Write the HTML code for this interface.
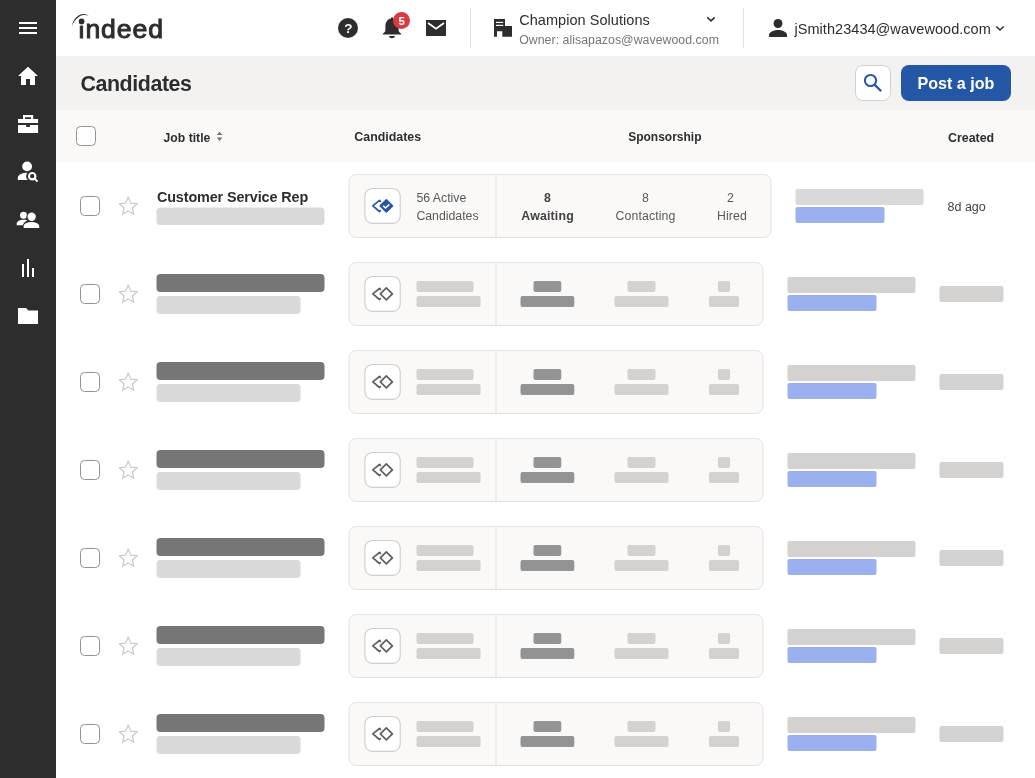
<!DOCTYPE html>
<html lang="en"><head><meta charset="utf-8"><title>Candidates</title>
<style>
*{box-sizing:border-box;margin:0;padding:0}
html,body{width:1035px;height:778px;overflow:hidden;background:#fff}
body{position:relative;font-family:"Liberation Sans",Arial,sans-serif;color:#2d2d2d}
.abs,.t{position:absolute}
.t{white-space:nowrap}
.side{position:absolute;left:0;top:0;width:56px;height:778px;background:#2d2d2d}
.titlebar{position:absolute;left:56px;top:56px;width:979px;height:54px;background:#f3f2f1}
.thead{position:absolute;left:56px;top:110px;width:979px;height:52px;background:#faf9f8}
.cb{position:absolute;width:20px;height:20px;border:1px solid #949494;border-radius:4.5px;background:#fff}
svg{position:absolute;overflow:visible}
</style></head><body>

<div class="side">
<svg style="left:0;top:0" width="56" height="340" viewBox="0 0 56 340" fill="#fff">
<rect x="19" y="22" width="18" height="2"/><rect x="19" y="27" width="18" height="2"/><rect x="19" y="32" width="18" height="2"/>
<path d="M28 66.800l10 9.200h-3v9h-5v-6h-4v6h-5v-9h-3z"/>
<path fill-rule="evenodd" d="M23 115h10.200v4h4.900v4h-20.100v-4h5zM25.100 117.300v1.700h5.900v-1.700z"/><path d="M18 124.900h8.200v2h3.700v-2h8.200v8.100h-20.100z"/>
<circle cx="27.100" cy="166.400" r="4.900"/>
<path d="M17.800 180.100v-2.200c0-3.300 4.700-5.100 9.500-5.100a6 6 0 0 0 .4 7.300z"/>
<circle cx="32.200" cy="176.200" r="3.200" fill="none" stroke="#fff" stroke-width="2.150"/>
<path d="M34.400 178.400l3.200 3.200" stroke="#fff" stroke-width="2" fill="none"/>
<circle cx="23.500" cy="215.300" r="3.500"/>
<path d="M16.700 225.200v-1.600c0-2.500 3.900-3.800 6.600-3.800c1.200 0 2.800.15 4.100.5c-2.300 1.100-3.700 2.600-3.900 4.900z"/>
<circle cx="31.650" cy="216.750" r="5.200" fill="#2d2d2d"/>
<path d="M23.700 228.050v-2.200c0-2.700 4.900-3.950 7.750-3.950s7.750 1.250 7.750 3.950v2.200z" stroke="#2d2d2d" stroke-width="2"/>
<path d="M23.700 228.050v-2.200c0-2.700 4.900-3.950 7.750-3.950s7.750 1.250 7.750 3.950v2.200z"/>
<circle cx="31.650" cy="216.750" r="4.150"/>
<rect x="22" y="264" width="2" height="13"/><rect x="27" y="259" width="2" height="18"/><rect x="32" y="268" width="2" height="9"/>
<path d="M18 308h8l2.500 2.500h9.500v13.500h-20z"/>
</svg></div>
<div class="t" id="logo" style="left:78.600px;top:11.600px;font-size:26.600px;line-height:34px;font-weight:400;letter-spacing:0.900px;color:#2d2d2d;-webkit-text-stroke:1px #2d2d2d">indeed</div>
<svg style="left:0;top:0" width="1" height="1"><rect x="78" y="16" width="7.500" height="9.600" fill="#fff"/><path d="M72 25.900c1.300-6.400 5.600-11.700 11.600-11.900c2 0 3.800.700 5.200 2.100c-1.500-.900-3.200-1.300-5-1.100c-5.200.500-9.200 5.100-11.800 10.900z" fill="#2d2d2d"/><circle cx="81.600" cy="21.400" r="2.850" fill="#2d2d2d"/></svg>
<div class="abs" style="left:338px;top:18px;width:20px;height:20px;border-radius:50%;background:#2d2d2d"></div>
<div class="t" style="left:248.3px;width:200px;text-align:center;top:21px;font-size:13.5px;line-height:15px;font-weight:700;color:#fff;">?</div>
<svg style="left:380px;top:16px" width="24" height="24" viewBox="380 16 24 24" fill="#2d2d2d"><path d="M382.900 34.600v-1.100c1.600-.700 2.500-1.700 2.500-3.400v-4c0-4.200 2.400-7 5.600-7.600v-.2a1 1 0 0 1 2 0v.2c3.200.6 5.600 3.400 5.600 7.600v4c0 1.700.9 2.700 2.500 3.400v1.100z"/><path d="M389.100 36.100h5.800a2.900 2.100 0 0 1-5.800 0z"/></svg>
<div class="abs" style="left:393px;top:12px;width:17px;height:17px;border-radius:50%;background:#d93a43"></div>
<div class="t" style="left:301.7px;width:200px;text-align:center;top:15px;font-size:11.5px;line-height:12px;font-weight:700;color:#fff;">5</div>
<svg style="left:426px;top:20px" width="20" height="16" viewBox="0 0 20 16"><rect width="20" height="16" fill="#2d2d2d"/><path d="M2 3l8 5.700l8-5.700" fill="none" stroke="#fff" stroke-width="1.800"/></svg>
<div class="abs" style="left:470px;top:8px;width:1px;height:40px;background:#e4e2e0"></div>
<svg style="left:494px;top:19px" width="18" height="18" viewBox="0 0 18 18"><path d="M0 0h11v7h7v10.700h-9.700v-5.400h-5.300v5.400h-3z" fill="#2d2d2d"/><rect x="2" y="2.850" width="7.200" height="1.150" fill="#fff"/><rect x="2" y="5.800" width="7.200" height="1.200" fill="#fff"/></svg>
<div class="t" style="left:519.2px;top:12px;font-size:14.5px;line-height:16px;letter-spacing:0.05px;">Champion Solutions</div>
<div class="t" style="left:519.2px;top:33px;font-size:12.3px;line-height:14px;color:#767676;letter-spacing:0.045px;">Owner: alisapazos@wavewood.com</div>
<svg style="left:704px;top:13px" width="14" height="12" viewBox="704 13 14 12"><path d="M707.300 17.400l3.700 3.500l3.700-3.500" fill="none" stroke="#2d2d2d" stroke-width="1.500"/></svg>
<div class="abs" style="left:743px;top:8px;width:1px;height:40px;background:#e4e2e0"></div>
<svg style="left:768px;top:18px" width="20" height="20" viewBox="0 0 20 20" fill="#2d2d2d"><circle cx="10" cy="5.500" r="4.450"/><path d="M1.100 18.900v-2.200c0-3.200 5.500-4.800 8.950-4.800s8.950 1.600 8.950 4.800v2.200z"/></svg>
<div class="t" style="left:794.5px;top:21px;font-size:14.5px;line-height:16px;letter-spacing:0.045px;">jSmith23434@wavewood.com</div>
<svg style="left:994px;top:22px" width="14" height="12" viewBox="994 22 14 12"><path d="M996.300 26.500l3.700 3.500l3.700-3.500" fill="none" stroke="#2d2d2d" stroke-width="1.500"/></svg>
<div class="titlebar"></div>
<div class="t" style="left:80.4px;top:72px;font-size:21.4px;line-height:24px;font-weight:700;letter-spacing:-0.41px;">Candidates</div>
<div class="abs" style="left:855px;top:65px;width:36px;height:36px;border:1px solid #d4d2d0;border-radius:8px;background:#fff"></div>
<svg style="left:855px;top:65px" width="36" height="36" viewBox="855 65 36 36"><circle cx="870.500" cy="80.500" r="5.600" fill="none" stroke="#2557a7" stroke-width="2"/><path d="M874.600 84.600l6.600 6.600" stroke="#2557a7" stroke-width="2.200" fill="none"/></svg>
<div class="abs" style="left:901px;top:65px;width:110px;height:36px;border-radius:8px;background:#2557a7"></div>
<div class="t" style="left:917.5px;top:74px;font-size:16.1px;line-height:18px;font-weight:700;color:#fff;">Post a job</div>
<div class="thead"></div>
<div class="cb" style="left:76px;top:126px"></div>
<div class="t" style="left:163.6px;top:131px;font-size:12.2px;line-height:14px;font-weight:700;">Job title</div>
<svg style="left:215px;top:130px" width="10" height="12" viewBox="215 130 10 12" fill="#767676"><path d="M219.600 131.700l2.900 3.300h-5.800z"/><path d="M219.600 140.900l2.900-3.300h-5.800z"/></svg>
<div class="t" style="left:354.3px;top:130px;font-size:12.4px;line-height:14px;font-weight:700;">Candidates</div>
<div class="t" style="left:628.2px;top:130px;font-size:12px;line-height:14px;font-weight:700;">Sponsorship</div>
<div class="t" style="left:948px;top:131px;font-size:12.4px;line-height:14px;font-weight:700;">Created</div>
<div class="cb" style="left:80px;top:196px"></div>
<div class="cb" style="left:80px;top:284px"></div>
<div class="cb" style="left:80px;top:372px"></div>
<div class="cb" style="left:80px;top:460px"></div>
<div class="cb" style="left:80px;top:548px"></div>
<div class="cb" style="left:80px;top:636px"></div>
<div class="cb" style="left:80px;top:724px"></div>
<svg style="left:0;top:0" width="1035" height="778" viewBox="0 0 1035 778">
<polygon points="128.20,197.10 130.76,203.08 137.24,203.66 132.34,207.94 133.78,214.29 128.20,210.95 122.62,214.29 124.06,207.94 119.16,203.66 125.64,203.08" fill="none" stroke="#cdcbc9" stroke-width="1.300" stroke-linejoin="round"/>
<rect x="349" y="174.5" width="422" height="63" rx="7.500" fill="#faf9f8" stroke="#e4e2e0"/>
<rect x="495.500" y="175" width="1" height="62" fill="#e4e2e0"/>
<g transform="translate(364,188)"><rect x=".9" y=".5" width="35.300" height="34.900" rx="7.500" fill="#fff" stroke="#d0cecc" stroke-width="1.150"/><path d="M16.400 13.300l-.9-.9l-6.650 5.550l6.650 5.550l.9-.9" fill="none" stroke="#2557a7" stroke-width="1.700" stroke-linejoin="round" stroke-linecap="round"/><path d="M22.350 11.850l6.050 6.050l-6.050 6.050l-6.050-6.050z" fill="#2557a7" stroke="#2557a7" stroke-width="1.700" stroke-linejoin="round"/><path d="M19.200 17.800l2.250 2.200l3.950-3.650" fill="none" stroke="#fff" stroke-width="1.600"/></g>
<rect x="156.5" y="207.4" width="168" height="17.7" rx="4" fill="#d9d9d9"/>
<rect x="795.5" y="189" width="128" height="16" rx="2" fill="#d9d9d9"/>
<rect x="795.5" y="207" width="89" height="16" rx="2" fill="#9bb0ee"/>
<polygon points="128.20,285.10 130.76,291.08 137.24,291.66 132.34,295.94 133.78,302.29 128.20,298.95 122.62,302.29 124.06,295.94 119.16,291.66 125.64,291.08" fill="none" stroke="#cdcbc9" stroke-width="1.300" stroke-linejoin="round"/>
<rect x="349" y="262.5" width="414" height="63" rx="7.500" fill="#faf9f8" stroke="#e4e2e0"/>
<rect x="495.500" y="263" width="1" height="62" fill="#e4e2e0"/>
<g transform="translate(364,276)"><rect x=".9" y=".5" width="35.300" height="34.900" rx="7.500" fill="#fff" stroke="#d0cecc" stroke-width="1.150"/><path d="M16.400 13.300l-.9-.9l-6.650 5.550l6.650 5.550l.9-.9" fill="none" stroke="#5e5e5e" stroke-width="1.700" stroke-linejoin="round" stroke-linecap="round"/><path d="M22.350 11.850l6.050 6.050l-6.050 6.050l-6.050-6.050z" fill="none" stroke="#5e5e5e" stroke-width="1.700" stroke-linejoin="round"/></g>
<rect x="156.5" y="274" width="168" height="18" rx="4" fill="#767676"/>
<rect x="156.5" y="296" width="144" height="18" rx="4" fill="#d9d9d9"/>
<rect x="416.5" y="281" width="57" height="11" rx="2" fill="#d4d2d0"/>
<rect x="416.5" y="296" width="64" height="11" rx="2" fill="#d4d2d0"/>
<rect x="533.5" y="281" width="27.8" height="11" rx="2" fill="#949494"/>
<rect x="520.5" y="296" width="53.8" height="11" rx="2" fill="#949494"/>
<rect x="627.5" y="281" width="28" height="11" rx="2" fill="#d4d2d0"/>
<rect x="614.5" y="296" width="54" height="11" rx="2" fill="#d4d2d0"/>
<rect x="717.9" y="281" width="12.2" height="11" rx="2" fill="#d4d2d0"/>
<rect x="708.9" y="296" width="30.2" height="11" rx="2" fill="#d4d2d0"/>
<rect x="787.5" y="277" width="128" height="16" rx="2" fill="#d4d2d0"/>
<rect x="787.5" y="295" width="89" height="16" rx="2" fill="#9bb0ee"/>
<rect x="939.5" y="286" width="64" height="16" rx="2" fill="#d4d2d0"/>
<polygon points="128.20,373.10 130.76,379.08 137.24,379.66 132.34,383.94 133.78,390.29 128.20,386.95 122.62,390.29 124.06,383.94 119.16,379.66 125.64,379.08" fill="none" stroke="#cdcbc9" stroke-width="1.300" stroke-linejoin="round"/>
<rect x="349" y="350.5" width="414" height="63" rx="7.500" fill="#faf9f8" stroke="#e4e2e0"/>
<rect x="495.500" y="351" width="1" height="62" fill="#e4e2e0"/>
<g transform="translate(364,364)"><rect x=".9" y=".5" width="35.300" height="34.900" rx="7.500" fill="#fff" stroke="#d0cecc" stroke-width="1.150"/><path d="M16.400 13.300l-.9-.9l-6.650 5.550l6.650 5.550l.9-.9" fill="none" stroke="#5e5e5e" stroke-width="1.700" stroke-linejoin="round" stroke-linecap="round"/><path d="M22.350 11.850l6.050 6.050l-6.050 6.050l-6.050-6.050z" fill="none" stroke="#5e5e5e" stroke-width="1.700" stroke-linejoin="round"/></g>
<rect x="156.5" y="362" width="168" height="18" rx="4" fill="#767676"/>
<rect x="156.5" y="384" width="144" height="18" rx="4" fill="#d9d9d9"/>
<rect x="416.5" y="369" width="57" height="11" rx="2" fill="#d4d2d0"/>
<rect x="416.5" y="384" width="64" height="11" rx="2" fill="#d4d2d0"/>
<rect x="533.5" y="369" width="27.8" height="11" rx="2" fill="#949494"/>
<rect x="520.5" y="384" width="53.8" height="11" rx="2" fill="#949494"/>
<rect x="627.5" y="369" width="28" height="11" rx="2" fill="#d4d2d0"/>
<rect x="614.5" y="384" width="54" height="11" rx="2" fill="#d4d2d0"/>
<rect x="717.9" y="369" width="12.2" height="11" rx="2" fill="#d4d2d0"/>
<rect x="708.9" y="384" width="30.2" height="11" rx="2" fill="#d4d2d0"/>
<rect x="787.5" y="365" width="128" height="16" rx="2" fill="#d4d2d0"/>
<rect x="787.5" y="383" width="89" height="16" rx="2" fill="#9bb0ee"/>
<rect x="939.5" y="374" width="64" height="16" rx="2" fill="#d4d2d0"/>
<polygon points="128.20,461.10 130.76,467.08 137.24,467.66 132.34,471.94 133.78,478.29 128.20,474.95 122.62,478.29 124.06,471.94 119.16,467.66 125.64,467.08" fill="none" stroke="#cdcbc9" stroke-width="1.300" stroke-linejoin="round"/>
<rect x="349" y="438.5" width="414" height="63" rx="7.500" fill="#faf9f8" stroke="#e4e2e0"/>
<rect x="495.500" y="439" width="1" height="62" fill="#e4e2e0"/>
<g transform="translate(364,452)"><rect x=".9" y=".5" width="35.300" height="34.900" rx="7.500" fill="#fff" stroke="#d0cecc" stroke-width="1.150"/><path d="M16.400 13.300l-.9-.9l-6.650 5.550l6.650 5.550l.9-.9" fill="none" stroke="#5e5e5e" stroke-width="1.700" stroke-linejoin="round" stroke-linecap="round"/><path d="M22.350 11.850l6.050 6.050l-6.050 6.050l-6.050-6.050z" fill="none" stroke="#5e5e5e" stroke-width="1.700" stroke-linejoin="round"/></g>
<rect x="156.5" y="450" width="168" height="18" rx="4" fill="#767676"/>
<rect x="156.5" y="472" width="144" height="18" rx="4" fill="#d9d9d9"/>
<rect x="416.5" y="457" width="57" height="11" rx="2" fill="#d4d2d0"/>
<rect x="416.5" y="472" width="64" height="11" rx="2" fill="#d4d2d0"/>
<rect x="533.5" y="457" width="27.8" height="11" rx="2" fill="#949494"/>
<rect x="520.5" y="472" width="53.8" height="11" rx="2" fill="#949494"/>
<rect x="627.5" y="457" width="28" height="11" rx="2" fill="#d4d2d0"/>
<rect x="614.5" y="472" width="54" height="11" rx="2" fill="#d4d2d0"/>
<rect x="717.9" y="457" width="12.2" height="11" rx="2" fill="#d4d2d0"/>
<rect x="708.9" y="472" width="30.2" height="11" rx="2" fill="#d4d2d0"/>
<rect x="787.5" y="453" width="128" height="16" rx="2" fill="#d4d2d0"/>
<rect x="787.5" y="471" width="89" height="16" rx="2" fill="#9bb0ee"/>
<rect x="939.5" y="462" width="64" height="16" rx="2" fill="#d4d2d0"/>
<polygon points="128.20,549.10 130.76,555.08 137.24,555.66 132.34,559.94 133.78,566.29 128.20,562.95 122.62,566.29 124.06,559.94 119.16,555.66 125.64,555.08" fill="none" stroke="#cdcbc9" stroke-width="1.300" stroke-linejoin="round"/>
<rect x="349" y="526.5" width="414" height="63" rx="7.500" fill="#faf9f8" stroke="#e4e2e0"/>
<rect x="495.500" y="527" width="1" height="62" fill="#e4e2e0"/>
<g transform="translate(364,540)"><rect x=".9" y=".5" width="35.300" height="34.900" rx="7.500" fill="#fff" stroke="#d0cecc" stroke-width="1.150"/><path d="M16.400 13.300l-.9-.9l-6.650 5.550l6.650 5.550l.9-.9" fill="none" stroke="#5e5e5e" stroke-width="1.700" stroke-linejoin="round" stroke-linecap="round"/><path d="M22.350 11.850l6.050 6.050l-6.050 6.050l-6.050-6.050z" fill="none" stroke="#5e5e5e" stroke-width="1.700" stroke-linejoin="round"/></g>
<rect x="156.5" y="538" width="168" height="18" rx="4" fill="#767676"/>
<rect x="156.5" y="560" width="144" height="18" rx="4" fill="#d9d9d9"/>
<rect x="416.5" y="545" width="57" height="11" rx="2" fill="#d4d2d0"/>
<rect x="416.5" y="560" width="64" height="11" rx="2" fill="#d4d2d0"/>
<rect x="533.5" y="545" width="27.8" height="11" rx="2" fill="#949494"/>
<rect x="520.5" y="560" width="53.8" height="11" rx="2" fill="#949494"/>
<rect x="627.5" y="545" width="28" height="11" rx="2" fill="#d4d2d0"/>
<rect x="614.5" y="560" width="54" height="11" rx="2" fill="#d4d2d0"/>
<rect x="717.9" y="545" width="12.2" height="11" rx="2" fill="#d4d2d0"/>
<rect x="708.9" y="560" width="30.2" height="11" rx="2" fill="#d4d2d0"/>
<rect x="787.5" y="541" width="128" height="16" rx="2" fill="#d4d2d0"/>
<rect x="787.5" y="559" width="89" height="16" rx="2" fill="#9bb0ee"/>
<rect x="939.5" y="550" width="64" height="16" rx="2" fill="#d4d2d0"/>
<polygon points="128.20,637.10 130.76,643.08 137.24,643.66 132.34,647.94 133.78,654.29 128.20,650.95 122.62,654.29 124.06,647.94 119.16,643.66 125.64,643.08" fill="none" stroke="#cdcbc9" stroke-width="1.300" stroke-linejoin="round"/>
<rect x="349" y="614.5" width="414" height="63" rx="7.500" fill="#faf9f8" stroke="#e4e2e0"/>
<rect x="495.500" y="615" width="1" height="62" fill="#e4e2e0"/>
<g transform="translate(364,628)"><rect x=".9" y=".5" width="35.300" height="34.900" rx="7.500" fill="#fff" stroke="#d0cecc" stroke-width="1.150"/><path d="M16.400 13.300l-.9-.9l-6.650 5.550l6.650 5.550l.9-.9" fill="none" stroke="#5e5e5e" stroke-width="1.700" stroke-linejoin="round" stroke-linecap="round"/><path d="M22.350 11.850l6.050 6.050l-6.050 6.050l-6.050-6.050z" fill="none" stroke="#5e5e5e" stroke-width="1.700" stroke-linejoin="round"/></g>
<rect x="156.5" y="626" width="168" height="18" rx="4" fill="#767676"/>
<rect x="156.5" y="648" width="144" height="18" rx="4" fill="#d9d9d9"/>
<rect x="416.5" y="633" width="57" height="11" rx="2" fill="#d4d2d0"/>
<rect x="416.5" y="648" width="64" height="11" rx="2" fill="#d4d2d0"/>
<rect x="533.5" y="633" width="27.8" height="11" rx="2" fill="#949494"/>
<rect x="520.5" y="648" width="53.8" height="11" rx="2" fill="#949494"/>
<rect x="627.5" y="633" width="28" height="11" rx="2" fill="#d4d2d0"/>
<rect x="614.5" y="648" width="54" height="11" rx="2" fill="#d4d2d0"/>
<rect x="717.9" y="633" width="12.2" height="11" rx="2" fill="#d4d2d0"/>
<rect x="708.9" y="648" width="30.2" height="11" rx="2" fill="#d4d2d0"/>
<rect x="787.5" y="629" width="128" height="16" rx="2" fill="#d4d2d0"/>
<rect x="787.5" y="647" width="89" height="16" rx="2" fill="#9bb0ee"/>
<rect x="939.5" y="638" width="64" height="16" rx="2" fill="#d4d2d0"/>
<polygon points="128.20,725.10 130.76,731.08 137.24,731.66 132.34,735.94 133.78,742.29 128.20,738.95 122.62,742.29 124.06,735.94 119.16,731.66 125.64,731.08" fill="none" stroke="#cdcbc9" stroke-width="1.300" stroke-linejoin="round"/>
<rect x="349" y="702.5" width="414" height="63" rx="7.500" fill="#faf9f8" stroke="#e4e2e0"/>
<rect x="495.500" y="703" width="1" height="62" fill="#e4e2e0"/>
<g transform="translate(364,716)"><rect x=".9" y=".5" width="35.300" height="34.900" rx="7.500" fill="#fff" stroke="#d0cecc" stroke-width="1.150"/><path d="M16.400 13.300l-.9-.9l-6.650 5.550l6.650 5.550l.9-.9" fill="none" stroke="#5e5e5e" stroke-width="1.700" stroke-linejoin="round" stroke-linecap="round"/><path d="M22.350 11.850l6.050 6.050l-6.050 6.050l-6.050-6.050z" fill="none" stroke="#5e5e5e" stroke-width="1.700" stroke-linejoin="round"/></g>
<rect x="156.5" y="714" width="168" height="18" rx="4" fill="#767676"/>
<rect x="156.5" y="736" width="144" height="18" rx="4" fill="#d9d9d9"/>
<rect x="416.5" y="721" width="57" height="11" rx="2" fill="#d4d2d0"/>
<rect x="416.5" y="736" width="64" height="11" rx="2" fill="#d4d2d0"/>
<rect x="533.5" y="721" width="27.8" height="11" rx="2" fill="#949494"/>
<rect x="520.5" y="736" width="53.8" height="11" rx="2" fill="#949494"/>
<rect x="627.5" y="721" width="28" height="11" rx="2" fill="#d4d2d0"/>
<rect x="614.5" y="736" width="54" height="11" rx="2" fill="#d4d2d0"/>
<rect x="717.9" y="721" width="12.2" height="11" rx="2" fill="#d4d2d0"/>
<rect x="708.9" y="736" width="30.2" height="11" rx="2" fill="#d4d2d0"/>
<rect x="787.5" y="717" width="128" height="16" rx="2" fill="#d4d2d0"/>
<rect x="787.5" y="735" width="89" height="16" rx="2" fill="#9bb0ee"/>
<rect x="939.5" y="726" width="64" height="16" rx="2" fill="#d4d2d0"/>
</svg>
<div class="t" style="left:156.9px;top:189px;font-size:14.4px;line-height:16px;font-weight:700;letter-spacing:-0.12px;">Customer Service Rep</div>
<div class="t" style="left:416.4px;top:191px;font-size:12.3px;line-height:14px;color:#595959;">56 Active</div>
<div class="t" style="left:416.4px;top:209px;font-size:12.3px;line-height:14px;color:#595959;">Candidates</div>
<div class="t" style="left:447.29999999999995px;width:200px;text-align:center;top:191px;font-size:12.3px;line-height:14px;font-weight:700;color:#424242;">8</div>
<div class="t" style="left:447.6px;width:200px;text-align:center;top:209px;font-size:12.3px;line-height:14px;font-weight:700;color:#424242;letter-spacing:0.2px;">Awaiting</div>
<div class="t" style="left:545.4px;width:200px;text-align:center;top:191px;font-size:12.3px;line-height:14px;color:#595959;">8</div>
<div class="t" style="left:545.5px;width:200px;text-align:center;top:209px;font-size:12.3px;line-height:14px;color:#595959;letter-spacing:0.13px;">Contacting</div>
<div class="t" style="left:630.5px;width:200px;text-align:center;top:191px;font-size:12.3px;line-height:14px;color:#595959;">2</div>
<div class="t" style="left:632px;width:200px;text-align:center;top:209px;font-size:12.3px;line-height:14px;color:#595959;letter-spacing:0.15px;">Hired</div>
<div class="t" style="left:947.5px;top:200px;font-size:12.5px;line-height:14px;color:#424242;">8d ago</div>
</body></html>
